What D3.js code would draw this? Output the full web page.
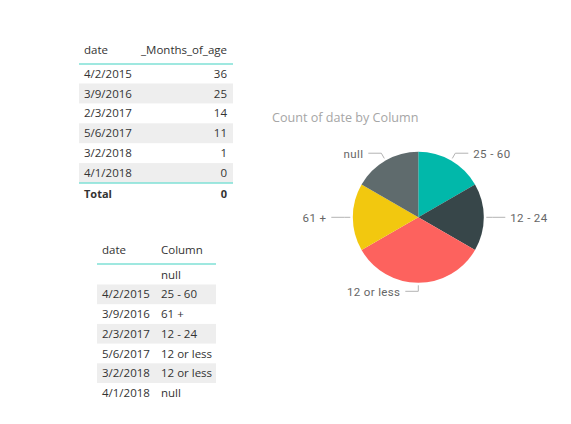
<!DOCTYPE html>
<html>
<head>
<meta charset="utf-8">
<script src="https://cdn.jsdelivr.net/npm/d3@7"></script>
<style>
  html, body { margin: 0; padding: 0; background: #fff; }
  text { font-family: "Open Sans", sans-serif; }
</style>
</head>
<body>
<div id="chart"></div>
<script>
const ageDates = ["4/2/2015", "3/9/2016", "2/3/2017", "5/6/2017", "3/2/2018", "4/1/2018"];
const monthsOfAge = [36, 25, 14, 11, 1, 0];
const ageTotal = 0;

const columnDates = ["", "4/2/2015", "3/9/2016", "2/3/2017", "5/6/2017", "3/2/2018", "4/1/2018"];
const columnValues = ["null", "25 - 60", "61 +", "12 - 24", "12 or less", "12 or less", "null"];

const pieLabels = ["25 - 60", "12 - 24", "12 or less", "61 +", "null"];
const pieCounts = [1, 1, 2, 1, 1];
const pieColors = ["#01b8aa", "#374649", "#fd625e", "#f2c80f", "#5f6b6d"];

const width = 571;
const height = 424;
const textColor = "#333";
const lineColor = "#7fe0d6";

const svg = d3
  .select("#chart")
  .append("svg")
  .attr("width", width)
  .attr("height", height)
  .style("display", "block");

// table helper, rows get every second one shaded
function drawTable(opts) {
  const ctr = svg.append("g");
  const rowScale = d3
    .scaleBand()
    .domain(d3.range(opts.rows.length))
    .range([opts.top, opts.top + opts.rows.length * opts.rowHeight]);

  ctr
    .selectAll("rect")
    .data(opts.rows)
    .join("rect")
    .filter((d, i) => i % 2 === 1)
    .attr("x", opts.left)
    .attr("y", (d, i) => rowScale(i * 2 + 1))
    .attr("width", opts.right - opts.left)
    .attr("height", rowScale.bandwidth())
    .attr("fill", "#eeeeee");

  ctr
    .append("line")
    .attr("x1", opts.left)
    .attr("x2", opts.right)
    .attr("y1", opts.lineY)
    .attr("y2", opts.lineY)
    .attr("stroke", lineColor)
    .attr("stroke-width", 1.5);

  opts.columns.forEach((col, c) => {
    ctr
      .append("text")
      .text(col.title)
      .attr("x", col.x)
      .attr("y", opts.lineY - 14.5)
      .attr("dy", "0.35em")
      .attr("text-anchor", col.anchor)
      .attr("fill", textColor)
      .style("font-size", "11.5px");

    ctr
      .append("g")
      .selectAll("text")
      .data(opts.rows)
      .join("text")
      .text((d) => d[c])
      .attr("x", col.x)
      .attr("y", (d, i) => rowScale(i) + rowScale.bandwidth() / 2 + 0.6)
      .attr("dy", "0.3em")
      .attr("text-anchor", col.anchor)
      .attr("fill", textColor)
      .style("font-size", "11.5px");
  });
  return rowScale;
}

// top table
const ageRows = drawTable({
  left: 79,
  right: 233,
  top: 63.6,
  lineY: 64,
  rowHeight: 19.9,
  rows: ageDates.map((d, i) => [d, monthsOfAge[i]]),
  columns: [
    { title: "date", x: 84, anchor: "start" },
    { title: "_Months_of_age", x: 227, anchor: "end" },
  ],
});

const ageBottom = ageRows.range()[1];
svg
  .append("line")
  .attr("x1", 79)
  .attr("x2", 233)
  .attr("y1", ageBottom)
  .attr("y2", ageBottom)
  .attr("stroke", lineColor)
  .attr("stroke-width", 1.5);

svg
  .selectAll("text.total")
  .data([
    { t: "Total", x: 84, a: "start" },
    { t: ageTotal, x: 227, a: "end" },
  ])
  .join("text")
  .classed("total", true)
  .text((d) => d.t)
  .attr("x", (d) => d.x)
  .attr("y", ageBottom + 11)
  .attr("dy", "0.35em")
  .attr("text-anchor", (d) => d.a)
  .attr("fill", textColor)
  .style("font-size", "11px")
  .style("font-weight", "700");

// bottom table
drawTable({
  left: 97,
  right: 216,
  top: 264.8,
  lineY: 264,
  rowHeight: 19.7,
  rows: columnDates.map((d, i) => [d, columnValues[i]]),
  columns: [
    { title: "date", x: 102, anchor: "start" },
    { title: "Column", x: 161, anchor: "start" },
  ],
});

// pie ======
svg
  .append("text")
  .text("Count of date by Column")
  .attr("x", 272)
  .attr("y", 117.5)
  .attr("dy", "0.35em")
  .attr("fill", "#a6a6a6")
  .style("font-size", "12.6px");

const radius = 65.5;
const pieCtr = svg.append("g").attr("transform", "translate(418.3,217.3)");

const arcs = d3.pie().sort(null)(pieCounts);
const arcGen = d3.arc().innerRadius(0).outerRadius(radius);
const leaderStart = d3.arc().innerRadius(radius + 2.5).outerRadius(radius + 2.5);
const leaderElbow = d3.arc().innerRadius(radius + 8.5).outerRadius(radius + 8.5);

pieCtr
  .selectAll("path.slice")
  .data(arcs)
  .join("path")
  .classed("slice", true)
  .attr("d", arcGen)
  .attr("fill", (d, i) => pieColors[i]);

const side = (d) => ((d.startAngle + d.endAngle) / 2 < Math.PI - 0.01 ? 1 : -1);

pieCtr
  .selectAll("polyline")
  .data(arcs)
  .join("polyline")
  .attr("points", (d) => {
    const a = leaderStart.centroid(d);
    const b = leaderElbow.centroid(d);
    return [a, b, [b[0] + side(d) * 13, b[1]]].join(" ");
  })
  .attr("fill", "none")
  .attr("stroke", "#b3b3b3")
  .attr("stroke-width", 1);

pieCtr
  .selectAll("text")
  .data(arcs)
  .join("text")
  .text((d, i) => pieLabels[i])
  .attr("x", (d) => leaderElbow.centroid(d)[0] + side(d) * 18)
  .attr("y", (d) => leaderElbow.centroid(d)[1] + 0.5)
  .attr("dy", "0.35em")
  .attr("text-anchor", (d) => (side(d) > 0 ? "start" : "end"))
  .attr("fill", "#666")
  .style("font-family", "Roboto, sans-serif")
  .style("letter-spacing", "0.35px")
  .style("font-size", "11.5px");
</script>
</body>
</html>
